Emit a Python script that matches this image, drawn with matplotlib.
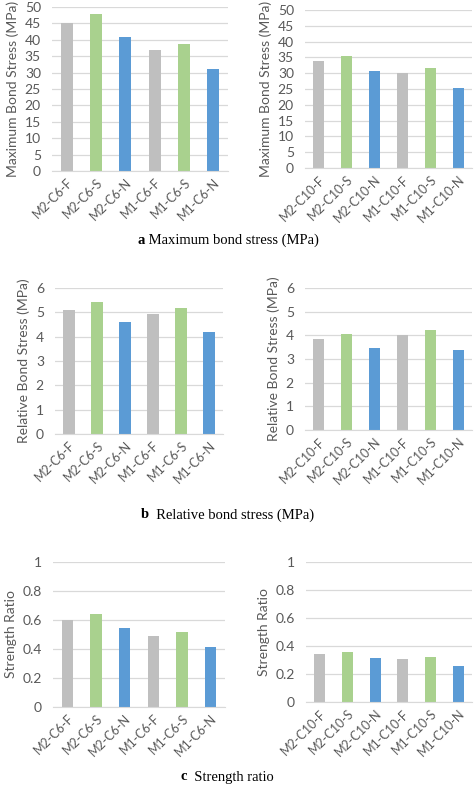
import matplotlib
matplotlib.use("Agg")
import matplotlib.pyplot as plt
import numpy as np

plt.rcParams.update({"font.family": ["Lato", "DejaVu Sans"]})

W, H = 474, 786

labels_c6 = ["M2-C6-F", "M2-C6-S", "M2-C6-N", "M1-C6-F", "M1-C6-S", "M1-C6-N"]
labels_c10 = ["M2-C10-F", "M2-C10-S", "M2-C10-N", "M1-C10-F", "M1-C10-S", "M1-C10-N"]

max_bond_c6 = [45.0, 48.0, 41.0, 37.0, 38.8, 31.2]
max_bond_c10 = [34.0, 35.5, 30.7, 30.0, 31.7, 25.4]
rel_bond_c6 = [5.08, 5.42, 4.62, 4.95, 5.18, 4.18]
rel_bond_c10 = [3.83, 4.06, 3.45, 4.02, 4.22, 3.38]
ratio_c6 = [0.60, 0.64, 0.545, 0.49, 0.515, 0.415]
ratio_c10 = [0.345, 0.36, 0.315, 0.305, 0.32, 0.26]

COLORS = ["#BFBFBF", "#A9D18E", "#5B9BD5"] * 2
TXT = "#595959"
GRID = "#D9D9D9"


def add_ax(fig, l, t, r, b):
    return fig.add_axes([l / W, 1 - b / H, (r - l) / W, (b - t) / H])


def bar_panel(ax, labels, values, ymax, step, ylabel, fmt):
    x = np.arange(len(labels))
    ax.bar(x, values, width=0.4, color=COLORS, zorder=2)
    ax.set_xlim(-0.5, len(labels) - 0.5)
    ax.set_ylim(0, ymax)
    ticks = np.arange(0, ymax + step / 2, step)
    ax.set_yticks(ticks)
    ax.set_yticklabels([fmt(t) for t in ticks])
    ax.set_xticks(x)
    ax.set_xticklabels(labels, rotation=45, ha="right", rotation_mode="anchor")
    ax.yaxis.grid(True, color=GRID, lw=0.9, zorder=0)
    ax.set_axisbelow(True)
    for s in ["top", "right", "left"]:
        ax.spines[s].set_visible(False)
    ax.spines["bottom"].set_color(GRID)
    ax.tick_params(axis="both", length=0, colors=TXT)
    ax.tick_params(axis="y", labelsize=10, pad=8)
    ax.tick_params(axis="x", labelsize=9, pad=4)
    ax.set_ylabel(ylabel, color=TXT, fontsize=10)


fig = plt.figure(figsize=(W / 100, H / 100), dpi=100)

ax = add_ax(fig, 52, 7, 228, 171)
bar_panel(ax, labels_c6, max_bond_c6, 50, 5, "Maximum Bond Stress (MPa)", lambda t: f"{t:g}")
ax = add_ax(fig, 305, 10, 472, 168)
bar_panel(ax, labels_c10, max_bond_c10, 50, 5, "Maximum Bond Stress (MPa)", lambda t: f"{t:g}")

ax = add_ax(fig, 55, 288, 223, 434)
bar_panel(ax, labels_c6, rel_bond_c6, 6, 1, "Relative Bond Stress (MPa)", lambda t: f"{t:g}")
ax = add_ax(fig, 305, 288, 472, 430)
bar_panel(ax, labels_c10, rel_bond_c10, 6, 1, "Relative Bond Stress (MPa)", lambda t: f"{t:g}")

ax = add_ax(fig, 53, 562, 225, 707)
bar_panel(ax, labels_c6, ratio_c6, 1, 0.2, "Strength Ratio", lambda t: f"{round(t, 1):g}")
ax = add_ax(fig, 306, 562, 472, 702)
bar_panel(ax, labels_c10, ratio_c10, 1, 0.2, "Strength Ratio", lambda t: f"{round(t, 1):g}")

serif = ["Liberation Serif", "DejaVu Serif"]
captions = [("a", " Maximum bond stress (MPa)", 240), ("b", "  Relative bond stress (MPa)", 515),
            ("c", "  Strength ratio", 777)]
for letter, rest, ypx in captions:
    full = letter + rest
    t = fig.text(0.48, 1 - ypx / H, full, ha="center", va="center", fontsize=10.5, family=serif, color="white")
    fig.canvas.draw()
    bb = t.get_window_extent()
    t.remove()
    x0 = bb.x0 / fig.bbox.width
    tl = fig.text(x0, 1 - ypx / H, letter, ha="left", va="center", fontsize=10.5, family=serif, weight="bold")
    fig.canvas.draw()
    bl = tl.get_window_extent()
    fig.text(bl.x1 / fig.bbox.width, 1 - ypx / H, rest, ha="left", va="center", fontsize=10.5, family=serif)

fig.savefig("out.png", dpi=100)
